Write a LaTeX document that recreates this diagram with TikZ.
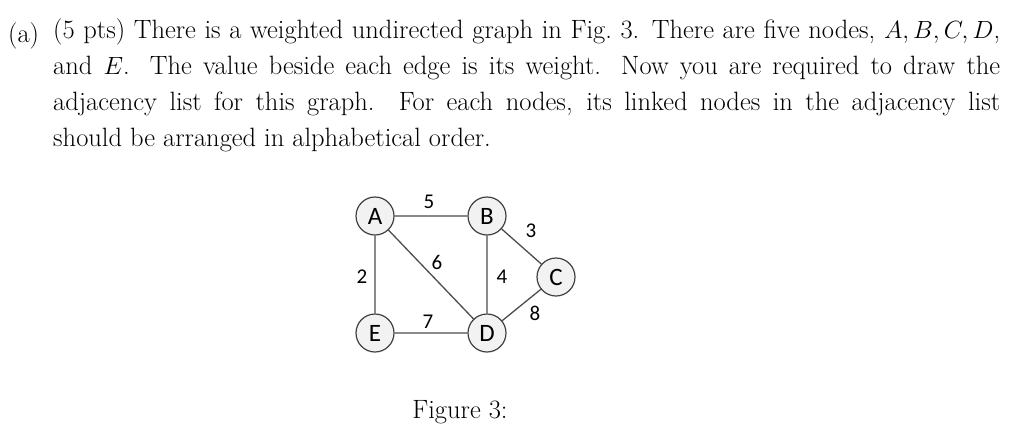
\documentclass[tikz,border=0pt]{standalone}
\usepackage{fontspec}
\newfontfamily\carlitofont{Carlito}
\begin{document}
\begin{tikzpicture}[x=1pt,y=-1pt,
  vtx/.style={circle,draw=black!75,line width=1.2pt,fill=black!5,minimum size=38pt,inner sep=0pt,font=\carlitofont\fontsize{25}{25}\selectfont},
  edge/.style={draw=black!70,line width=1.3pt},
  wt/.style={font=\carlitofont\fontsize{21}{21}\selectfont,inner sep=1pt}]
\useasboundingbox (0,0) rectangle (1024,442);
\node[anchor=base west,inner sep=0pt,font=\fontsize{26.5}{36}\selectfont] (lab) at (8,42) {(a)};
\node[anchor=north west,inner sep=0pt,text width=947pt,align=justify,font=\fontsize{26.5}{36}\selectfont] (txt) at (53,18)
 {\emergencystretch=20pt (5 pts) There is a weighted undirected graph in Fig.~3. There are five nodes, $A,B,C,D$,\linebreak and $E$. The value beside each edge is its weight. Now you are required to draw the\linebreak adjacency list for this graph. For each nodes, its linked nodes in the adjacency list\linebreak should be arranged in alphabetical order.};
\node[vtx] (A) at (375,216) {A};
\node[vtx] (B) at (487,216) {B};
\node[vtx] (C) at (556,277) {C};
\node[vtx] (E) at (375,333) {E};
\node[vtx] (D) at (487,333) {D};
\draw[edge] (A)--(B) (A)--(E) (A)--(D) (B)--(D) (B)--(C) (C)--(D) (E)--(D);
\node[wt] (w5) at (429,202) {5};
\node[wt] (w2) at (362,277) {2};
\node[wt] (w6) at (437,262) {6};
\node[wt] (w4) at (502,277) {4};
\node[wt] (w3) at (531,231) {3};
\node[wt] (w8) at (535,313) {8};
\node[wt] (w7) at (428,322) {7};
\node[anchor=base,inner sep=0pt,font=\fontsize{26.5}{30}\selectfont] (fig) at (460,418) {Figure 3:};
\end{tikzpicture}
\end{document}
